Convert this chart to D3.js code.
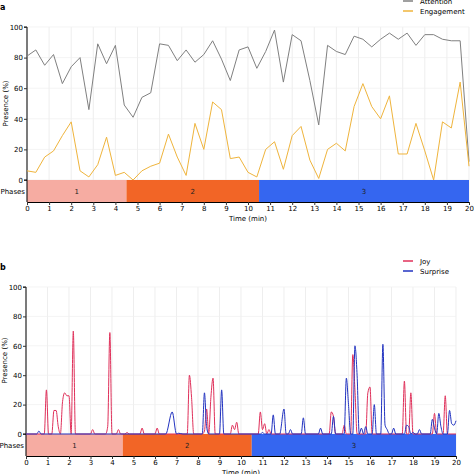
<!DOCTYPE html>
<html><head><meta charset="utf-8">
<script src="https://cdn.jsdelivr.net/npm/d3@7"></script>
<style>body{margin:0;background:#fff}text{font-family:"DejaVu Sans",sans-serif}</style>
</head><body>
<svg id="c" width="474" height="474"></svg>
<script>
// panel a, sampled every 0.4 min
const attention = [81,85,75,82,63,74,80,46,89,76,88,49,41,54,57,89,88,78,85,77,82,91,79,65,85,87,73,84,98,64,95,91,65,36,88,84,82,94,92,87,92,96,92,96,88,95,95,92,91,91,12];
const engagement = [6,5,15,19,29,38,6,2,10,28,3,5,0,6,9,11,30,15,3,37,20,51,46,14,15,5,2,20,25,7,29,35,13,1,20,24,19,48,63,48,40,55,17,17,37,19,0,38,34,64,9];
// panel b, breakpoints [time, value]
const joy = [[0,0],[0.85,0],[0.95,30],[1.05,0],[1.2,0],[1.3,16],[1.4,16],[1.5,5],[1.6,0],[1.7,22],[1.8,28],[1.9,26],[2.0,26],[2.1,0],[2.2,70],[2.3,0],[3.0,0],[3.1,3],[3.2,0],[3.7,0],[3.8,5],[3.9,69],[4.0,0],[4.2,0],[4.3,3],[4.4,0],[4.6,0],[4.7,1],[4.8,0],[5.3,0],[5.4,4],[5.5,0],[6.0,0],[6.1,4],[6.2,0],[7.5,0],[7.6,40],[7.7,25],[7.8,0],[8.2,0],[8.3,2],[8.4,17],[8.5,0],[8.6,25],[8.7,38],[8.8,0],[9.5,0],[9.6,6],[9.7,3],[9.8,8],[9.9,0],[10.8,0],[10.9,15],[11.0,3],[11.1,7],[11.2,0],[11.3,3],[11.4,0],[14.1,0],[14.2,15],[14.3,12],[14.4,0],[14.7,0],[14.8,6],[14.9,0],[15.1,0],[15.2,54],[15.3,30],[15.4,0],[15.8,0],[15.9,28],[16.0,32],[16.1,0],[17.5,0],[17.6,36],[17.7,0],[17.8,0],[17.9,28],[18.0,0],[18.9,0],[19.0,14],[19.1,0],[19.4,0],[19.5,26],[19.6,0],[20,0]];
const surprise = [[0,0],[0.5,0],[0.6,2],[0.7,0],[6.5,0],[6.8,15],[7.0,0],[7.1,0.5],[7.3,0],[8.2,0],[8.3,28],[8.4,5],[8.5,0],[9.0,0],[9.1,30],[9.2,0],[10.9,0],[11.0,1],[11.1,0],[11.4,0],[11.5,13],[11.6,0],[11.8,0],[12.0,17],[12.1,0],[12.2,0],[12.3,3],[12.4,0],[12.8,0],[12.9,11],[13.0,0],[13.6,0],[13.7,4],[13.8,0],[14.2,0],[14.3,12],[14.4,0],[14.8,0],[14.9,38],[15.0,20],[15.1,0],[15.2,0],[15.3,60],[15.4,40],[15.5,0],[15.6,4],[15.7,0],[15.8,5],[15.9,0],[16.1,0],[16.2,20],[16.3,0],[16.5,0],[16.6,61],[16.7,6],[16.8,3],[16.9,0],[17.0,0],[17.1,4],[17.2,0],[17.6,0],[17.7,6],[17.8,5],[17.9,0],[18.0,1],[18.1,0],[18.2,0],[18.3,3],[18.4,0],[18.8,0],[18.9,10],[19.0,4],[19.1,0],[19.2,14],[19.3,5],[19.4,0],[19.6,0],[19.7,16],[19.8,7],[19.9,6],[20,9]];
const phases = [{name:"1",start:0,end:4.5,color:"#f6aca2"},{name:"2",start:4.5,end:10.5,color:"#f26526"},{name:"3",start:10.5,end:20,color:"#3566f0"}];
const yTicks = [0,20,40,60,80,100];

const svg = d3.select("#c");

function panel(o) {
  const x = d3.scaleLinear().domain([0,20]).range([o.x0,o.x1]);
  const y = d3.scaleLinear().domain([0,100]).range([o.y0,o.y1]);
  const g = svg.append("g");
  // grid
  g.selectAll(".gx").data(d3.range(0,21)).join("line")
    .attr("x1",d=>x(d)).attr("x2",d=>x(d)).attr("y1",o.y1).attr("y2",o.y0+o.band)
    .attr("stroke","#e6e6e6").attr("stroke-width",0.7);
  g.selectAll(".gy").data(yTicks).join("line")
    .attr("x1",o.x0).attr("x2",o.x1).attr("y1",d=>y(d)).attr("y2",d=>y(d))
    .attr("stroke","#efefef").attr("stroke-width",0.7);
  // phases
  g.selectAll(".ph").data(phases).join("rect")
    .attr("x",d=>x(d.start)).attr("width",d=>x(d.end)-x(d.start))
    .attr("y",o.y0).attr("height",o.band).attr("fill",d=>d.color);
  g.selectAll(".pt").data(phases).join("text")
    .attr("x",d=>x((d.start+d.end)/2)).attr("y",o.y0+o.band/2+3)
    .attr("text-anchor","middle").attr("font-size",7).attr("fill","#222").text(d=>d.name);
  g.append("text").attr("x",o.x0-2).attr("y",o.y0+o.band/2+3).attr("text-anchor","end")
    .attr("font-size",7).text("Phases");
  // axes
  g.append("g").attr("transform",`translate(0,${o.y0+o.band})`)
    .call(d3.axisBottom(x).ticks(20).tickSize(3).tickPadding(1))
    .call(a=>a.selectAll("text").attr("font-size",7));
  g.append("g").attr("transform",`translate(${o.x0},0)`)
    .call(d3.axisLeft(y).tickValues(yTicks).tickSize(3).tickPadding(1))
    .call(a=>a.select(".domain").attr("d",`M-3,${o.y1}H0V${o.y0}H-3`))
    .call(a=>a.selectAll("text").attr("font-size",7));
  g.selectAll(".tick line").attr("stroke","#333");
  g.append("line").attr("x1",o.x0).attr("x2",o.x0).attr("y1",o.y0).attr("y2",o.y0+o.band).attr("stroke","#000");
  g.append("text").attr("x",(o.x0+o.x1)/2).attr("y",o.y0+o.band+19).attr("text-anchor","middle")
    .attr("font-size",7).text("Time (min)");
  g.append("text").attr("transform",`translate(${o.x0-19},${(o.y0+o.y1)/2}) rotate(-90)`)
    .attr("text-anchor","middle").attr("font-size",7).text("Presence (%)");
  g.append("text").attr("x",0).attr("y",o.y1-17).attr("font-size",8).attr("font-weight","bold").text(o.label);
  // series
  o.series.forEach((s,i)=>{
    g.append("path").datum(s.data).attr("fill","none").attr("stroke",s.color).attr("stroke-width",1)
      .attr("d",d3.line().x(d=>x(d[0])).y(d=>y(d[1])).curve(s.curve));
    const ly = o.legY + i*10;
    g.append("line").attr("x1",403).attr("x2",413).attr("y1",ly).attr("y2",ly).attr("stroke",s.color).attr("stroke-width",1.5);
    g.append("text").attr("x",420).attr("y",ly+2.5).attr("font-size",7).text(s.name);
  });
}

const t04 = v => v.map((d,i)=>[i*0.4,d]);
panel({x0:27,x1:469,y0:180,y1:27,band:22,label:"a",legY:1,series:[
  {name:"Attention",color:"#808080",data:t04(attention),curve:d3.curveLinear},
  {name:"Engagement",color:"#efb43c",data:t04(engagement),curve:d3.curveLinear}]});
panel({x0:26,x1:456,y0:434,y1:287,band:22,label:"b",legY:261,series:[
  {name:"Joy",color:"#e0305a",data:joy,curve:d3.curveMonotoneX},
  {name:"Surprise",color:"#2233c0",data:surprise,curve:d3.curveMonotoneX}]});
</script>
</body></html>
